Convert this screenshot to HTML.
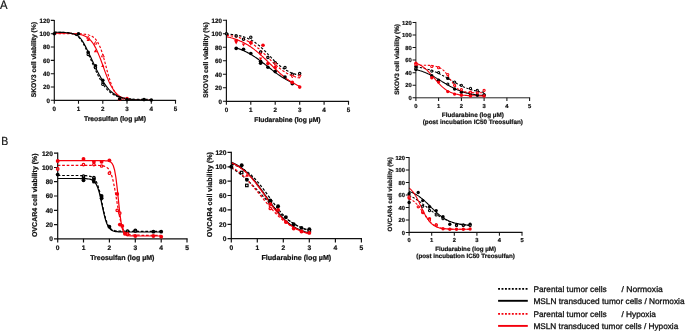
<!DOCTYPE html>
<html><head><meta charset="utf-8"><title>Figure</title>
<style>html,body{margin:0;padding:0;background:#fff}svg{display:block}</style></head>
<body>
<svg width="685" height="331" viewBox="0 0 685 331" font-family="'Liberation Sans', sans-serif" text-rendering="geometricPrecision">
<rect width="685" height="331" fill="#fff"/>
<g id="A1"><polyline points="54.3,33.7 55.5,33.7 56.7,33.7 57.9,33.7 59.1,33.7 60.4,33.7 61.6,33.7 62.8,33.7 64.0,33.7 65.2,33.7 66.4,33.7 67.6,33.7 68.8,33.7 70.1,33.7 71.3,33.7 72.5,33.8 73.7,33.8 74.9,33.8 76.1,33.8 77.3,33.8 78.5,33.8 79.8,33.9 81.0,33.9 82.2,34.0 83.4,34.1 84.6,34.2 85.8,34.4 87.0,34.6 88.2,34.8 89.4,35.2 90.7,35.6 91.9,36.2 93.1,36.9 94.3,37.9 95.5,39.1 96.7,40.6 97.9,42.5 99.1,44.9 100.4,47.7 101.6,51.0 102.8,54.7 104.0,58.9 105.2,63.3 106.4,67.9 107.6,72.5 108.8,76.8 110.1,80.8 111.3,84.4 112.5,87.5 113.7,90.1 114.9,92.3 116.1,94.0 117.3,95.4 118.5,96.5 119.7,97.4 121.0,98.1 122.2,98.6 123.4,99.0 124.6,99.3 125.8,99.6 127.0,99.7 128.2,99.9 129.4,100.0 130.7,100.1 131.9,100.1 133.1,100.2 134.3,100.2 135.5,100.2 136.7,100.2 137.9,100.3 139.1,100.3 140.4,100.3 141.6,100.3 142.8,100.3 144.0,100.3 145.2,100.3 146.4,100.3 147.6,100.3 148.8,100.3 150.0,100.3 151.3,100.3" fill="none" stroke="#f4000c" stroke-width="1.15" stroke-dasharray="2.50 1.70"/>
<polyline points="54.3,33.1 55.5,33.1 56.7,33.1 57.9,33.1 59.1,33.1 60.4,33.1 61.6,33.1 62.8,33.1 64.0,33.2 65.2,33.2 66.4,33.2 67.6,33.2 68.8,33.3 70.1,33.3 71.3,33.4 72.5,33.5 73.7,33.5 74.9,33.7 76.1,33.8 77.3,33.9 78.5,34.1 79.8,34.4 81.0,34.7 82.2,35.0 83.4,35.4 84.6,35.9 85.8,36.6 87.0,37.3 88.2,38.2 89.4,39.2 90.7,40.4 91.9,41.9 93.1,43.5 94.3,45.4 95.5,47.6 96.7,50.0 97.9,52.7 99.1,55.6 100.4,58.7 101.6,62.0 102.8,65.3 104.0,68.7 105.2,72.1 106.4,75.3 107.6,78.4 108.8,81.2 110.1,83.9 111.3,86.2 112.5,88.3 113.7,90.2 114.9,91.8 116.1,93.2 117.3,94.4 118.5,95.4 119.7,96.2 121.0,96.9 122.2,97.5 123.4,98.0 124.6,98.4 125.8,98.8 127.0,99.0 128.2,99.3 129.4,99.4 130.7,99.6 131.9,99.7 133.1,99.8 134.3,99.9 135.5,100.0 136.7,100.0 137.9,100.1 139.1,100.1 140.4,100.2 141.6,100.2 142.8,100.2 144.0,100.2 145.2,100.2 146.4,100.2 147.6,100.3 148.8,100.3 150.0,100.3 151.3,100.3" fill="none" stroke="#f4000c" stroke-width="1.15"/>
<polyline points="54.3,32.1 55.5,32.1 56.7,32.2 57.9,32.2 59.1,32.2 60.4,32.3 61.6,32.3 62.8,32.4 64.0,32.4 65.2,32.5 66.4,32.6 67.6,32.8 68.8,32.9 70.1,33.2 71.3,33.4 72.5,33.7 73.7,34.1 74.9,34.6 76.1,35.1 77.3,35.9 78.5,37.0 79.8,38.4 81.0,40.0 82.2,41.8 83.4,43.8 84.6,46.1 85.8,48.5 87.0,51.0 88.2,53.7 89.4,56.4 90.7,59.2 91.9,61.9 93.1,64.7 94.3,67.4 95.5,70.0 96.7,72.6 97.9,75.1 99.1,77.4 100.4,79.7 101.6,81.8 102.8,83.8 104.0,85.6 105.2,87.2 106.4,88.7 107.6,90.1 108.8,91.3 110.1,92.3 111.3,93.3 112.5,94.1 113.7,94.8 114.9,95.5 116.1,96.0 117.3,96.5 118.5,96.9 119.7,97.3 121.0,97.6 122.2,97.9 123.4,98.1 124.6,98.3 125.8,98.5 127.0,98.6 128.2,98.7 129.4,98.9 130.7,98.9 131.9,99.0 133.1,99.1 134.3,99.2 135.5,99.2 136.7,99.2 137.9,99.3 139.1,99.3 140.4,99.3 141.6,99.4 142.8,99.4 144.0,99.4 145.2,99.4 146.4,99.4 147.6,99.4 148.8,99.4 150.0,99.5 151.3,99.5" fill="none" stroke="#000" stroke-width="1.15" stroke-dasharray="2.50 1.70"/>
<polyline points="54.3,32.1 55.5,32.2 56.7,32.2 57.9,32.2 59.1,32.2 60.4,32.3 61.6,32.3 62.8,32.4 64.0,32.5 65.2,32.5 66.4,32.7 67.6,32.8 68.8,32.9 70.1,33.1 71.3,33.4 72.5,33.7 73.7,34.0 74.9,34.4 76.1,35.0 77.3,35.6 78.5,36.3 79.8,37.6 81.0,39.0 82.2,40.7 83.4,42.6 84.6,44.7 85.8,47.0 87.0,49.4 88.2,51.9 89.4,54.5 90.7,57.1 91.9,59.7 93.1,62.3 94.3,64.9 95.5,67.4 96.7,69.9 97.9,72.3 99.1,74.6 100.4,76.8 101.6,79.0 102.8,81.0 104.0,82.9 105.2,84.7 106.4,86.4 107.6,87.9 108.8,89.3 110.1,90.6 111.3,91.7 112.5,92.7 113.7,93.6 114.9,94.4 116.1,95.2 117.3,95.8 118.5,96.4 119.7,96.9 121.0,97.3 122.2,97.7 123.4,98.0 124.6,98.3 125.8,98.6 127.0,98.8 128.2,99.0 129.4,99.2 130.7,99.3 131.9,99.4 133.1,99.6 134.3,99.7 135.5,99.7 136.7,99.8 137.9,99.9 139.1,99.9 140.4,100.0 141.6,100.0 142.8,100.1 144.0,100.1 145.2,100.1 146.4,100.1 147.6,100.2 148.8,100.2 150.0,100.2 151.3,100.2" fill="none" stroke="#000" stroke-width="1.15"/>
<path d="M54.3 19.9V100.3H176.1" fill="none" stroke="#111" stroke-width="1.15"/>
<path d="M54.3 100.3h-3.5M54.3 87.0h-3.5M54.3 73.7h-3.5M54.3 60.4h-3.5M54.3 47.0h-3.5M54.3 33.7h-3.5M54.3 20.4h-3.5M54.3 100.3v3.5M78.5 100.3v3.5M102.8 100.3v3.5M127.0 100.3v3.5M151.3 100.3v3.5M175.5 100.3v3.5" stroke="#111" stroke-width="1.10" fill="none"/>
<text x="49.9" y="102.5" font-size="6.21" text-anchor="end" fill="#111" stroke="#111" stroke-width="0.22" font-weight="bold">0</text>
<text x="49.9" y="89.2" font-size="6.21" text-anchor="end" fill="#111" stroke="#111" stroke-width="0.22" font-weight="bold">20</text>
<text x="49.9" y="75.9" font-size="6.21" text-anchor="end" fill="#111" stroke="#111" stroke-width="0.22" font-weight="bold">40</text>
<text x="49.9" y="62.6" font-size="6.21" text-anchor="end" fill="#111" stroke="#111" stroke-width="0.22" font-weight="bold">60</text>
<text x="49.9" y="49.3" font-size="6.21" text-anchor="end" fill="#111" stroke="#111" stroke-width="0.22" font-weight="bold">80</text>
<text x="49.9" y="36.0" font-size="6.21" text-anchor="end" fill="#111" stroke="#111" stroke-width="0.22" font-weight="bold">100</text>
<text x="49.9" y="22.6" font-size="6.21" text-anchor="end" fill="#111" stroke="#111" stroke-width="0.22" font-weight="bold">120</text>
<text x="54.3" y="111.0" font-size="6.21" text-anchor="middle" fill="#111" stroke="#111" stroke-width="0.22" font-weight="bold">0</text>
<text x="78.5" y="111.0" font-size="6.21" text-anchor="middle" fill="#111" stroke="#111" stroke-width="0.22" font-weight="bold">1</text>
<text x="102.8" y="111.0" font-size="6.21" text-anchor="middle" fill="#111" stroke="#111" stroke-width="0.22" font-weight="bold">2</text>
<text x="127.0" y="111.0" font-size="6.21" text-anchor="middle" fill="#111" stroke="#111" stroke-width="0.22" font-weight="bold">3</text>
<text x="151.3" y="111.0" font-size="6.21" text-anchor="middle" fill="#111" stroke="#111" stroke-width="0.22" font-weight="bold">4</text>
<text x="175.5" y="111.0" font-size="6.21" text-anchor="middle" fill="#111" stroke="#111" stroke-width="0.22" font-weight="bold">5</text>
<text x="114.9" y="120.9" font-size="6.75" text-anchor="middle" fill="#111" stroke="#111" stroke-width="0.22" font-weight="bold">Treosulfan (log µM)</text>
<text transform="translate(35.9 59.6) rotate(-90)" font-size="6.75" text-anchor="middle" fill="#111" stroke="#111" stroke-width="0.22" font-weight="bold">SKOV3 cell viability (%)</text>
<polygon points="88.2,38.0 86.6,40.9 89.9,40.9" fill="#f4000c"/>
<polygon points="95.5,49.3 93.8,52.3 97.2,52.3" fill="#f4000c"/>
<polygon points="102.8,63.9 101.1,66.9 104.4,66.9" fill="#f4000c"/>
<polygon points="88.2,36.2 86.8,38.8 89.7,38.8" fill="#fff" fill-opacity="0.55" stroke="#f4000c" stroke-width="0.90"/>
<polygon points="95.5,41.5 94.0,44.1 97.0,44.1" fill="#fff" fill-opacity="0.55" stroke="#f4000c" stroke-width="0.90"/>
<polygon points="102.8,54.1 101.3,56.8 104.3,56.8" fill="#fff" fill-opacity="0.55" stroke="#f4000c" stroke-width="0.90"/>
<circle cx="119.7" cy="99.3" r="1.80" fill="#f4000c"/>
<circle cx="127.0" cy="98.6" r="1.80" fill="#f4000c"/>
<circle cx="54.3" cy="33.7" r="1.80" fill="#000"/>
<circle cx="78.5" cy="33.7" r="1.80" fill="#000"/>
<circle cx="88.2" cy="52.4" r="1.80" fill="#000"/>
<circle cx="95.5" cy="65.7" r="1.80" fill="#000"/>
<circle cx="102.8" cy="80.3" r="1.80" fill="#000"/>
<circle cx="119.7" cy="99.0" r="1.80" fill="#000"/>
<circle cx="127.0" cy="99.6" r="1.80" fill="#000"/>
<circle cx="144.0" cy="99.6" r="1.80" fill="#000"/>
<circle cx="151.3" cy="100.0" r="1.80" fill="#000"/>
<circle cx="88.2" cy="54.4" r="1.15" fill="#fff" fill-opacity="0.55" stroke="#000" stroke-width="1.15"/>
<circle cx="95.5" cy="67.7" r="1.15" fill="#fff" fill-opacity="0.55" stroke="#000" stroke-width="1.15"/>
<circle cx="102.8" cy="84.3" r="1.15" fill="#fff" fill-opacity="0.55" stroke="#000" stroke-width="1.15"/></g>
<g id="A2"><polyline points="236.2,47.9 236.9,48.1 237.6,48.3 238.3,48.6 239.0,48.8 239.7,49.1 240.4,49.3 241.1,49.6 241.8,49.9 242.5,50.2 243.2,50.5 243.9,50.8 244.6,51.1 245.3,51.4 246.0,51.8 246.7,52.1 247.4,52.5 248.1,52.9 248.8,53.2 249.5,53.6 250.2,54.0 250.9,54.4 251.6,54.8 252.3,55.3 253.0,55.7 253.7,56.2 254.4,56.6 255.1,57.1 255.8,57.6 256.5,58.0 257.2,58.5 257.9,59.0 258.6,59.5 259.3,60.1 260.0,60.6 260.7,61.1 261.4,61.6 262.1,62.2 262.8,62.7 263.5,63.3 264.3,63.8 265.0,64.4 265.7,64.9 266.4,65.5 267.1,66.0 267.8,66.6 268.5,67.1 269.2,67.7 269.9,68.2 270.6,68.8 271.3,69.3 272.0,69.9 272.7,70.4 273.4,71.0 274.1,71.5 274.8,72.0 275.5,72.6 276.2,73.1 276.9,73.6 277.6,74.1 278.3,74.6 279.0,75.1 279.7,75.5 280.4,76.0 281.1,76.5 281.8,76.9 282.5,77.4 283.2,77.8 283.9,78.2 284.6,78.6 285.3,79.0 286.0,79.4 286.7,79.8 287.4,80.2 288.1,80.6 288.8,80.9 289.5,81.3 290.2,81.6 290.9,81.9 291.6,82.2 292.3,82.5" fill="none" stroke="#000" stroke-width="1.16"/>
<polyline points="226.4,33.9 227.3,34.0 228.2,34.1 229.1,34.2 230.1,34.3 231.0,34.4 231.9,34.5 232.8,34.6 233.7,34.7 234.6,34.8 235.6,35.0 236.5,35.1 237.4,35.3 238.3,35.5 239.2,35.7 240.1,35.9 241.1,36.1 242.0,36.4 242.9,36.6 243.8,36.9 244.7,37.2 245.6,37.5 246.5,37.9 247.5,38.3 248.4,38.7 249.3,39.1 250.2,39.6 251.1,40.1 252.0,40.6 253.0,41.1 253.9,41.7 254.8,42.3 255.7,43.0 256.6,43.6 257.5,44.3 258.5,45.1 259.4,45.8 260.3,46.6 261.2,47.5 262.1,48.3 263.0,49.2 263.9,50.1 264.9,51.0 265.8,51.9 266.7,52.9 267.6,53.8 268.5,54.8 269.4,55.7 270.4,56.7 271.3,57.7 272.2,58.6 273.1,59.5 274.0,60.5 274.9,61.4 275.9,62.2 276.8,63.1 277.7,63.9 278.6,64.7 279.5,65.5 280.4,66.3 281.3,67.0 282.3,67.7 283.2,68.3 284.1,69.0 285.0,69.5 285.9,70.1 286.8,70.6 287.8,71.1 288.7,71.6 289.6,72.0 290.5,72.5 291.4,72.8 292.3,73.2 293.2,73.5 294.2,73.8 295.1,74.1 296.0,74.4 296.9,74.7 297.8,74.9 298.7,75.1 299.7,75.3" fill="none" stroke="#000" stroke-width="1.16" stroke-dasharray="2.52 1.72"/>
<polyline points="226.4,35.2 227.3,35.3 228.2,35.4 229.1,35.5 230.1,35.7 231.0,35.8 231.9,36.0 232.8,36.1 233.7,36.3 234.6,36.5 235.6,36.7 236.5,36.9 237.4,37.1 238.3,37.4 239.2,37.6 240.1,37.9 241.1,38.2 242.0,38.5 242.9,38.9 243.8,39.2 244.7,39.6 245.6,40.0 246.5,40.5 247.5,40.9 248.4,41.4 249.3,41.9 250.2,42.4 251.1,43.0 252.0,43.6 253.0,44.2 253.9,44.8 254.8,45.5 255.7,46.2 256.6,46.9 257.5,47.7 258.5,48.4 259.4,49.2 260.3,50.1 261.2,50.9 262.1,51.8 263.0,52.6 263.9,53.5 264.9,54.4 265.8,55.3 266.7,56.2 267.6,57.1 268.5,58.1 269.4,59.0 270.4,59.9 271.3,60.8 272.2,61.7 273.1,62.6 274.0,63.4 274.9,64.3 275.9,65.1 276.8,65.9 277.7,66.7 278.6,67.5 279.5,68.2 280.4,68.9 281.3,69.6 282.3,70.3 283.2,70.9 284.1,71.5 285.0,72.1 285.9,72.6 286.8,73.2 287.8,73.7 288.7,74.1 289.6,74.6 290.5,75.0 291.4,75.4 292.3,75.8 293.2,76.1 294.2,76.5 295.1,76.8 296.0,77.1 296.9,77.3 297.8,77.6 298.7,77.8 299.7,78.1" fill="none" stroke="#f4000c" stroke-width="1.16" stroke-dasharray="2.52 1.72"/>
<polyline points="226.4,36.7 227.3,36.9 228.2,37.1 229.1,37.3 230.1,37.5 231.0,37.8 231.9,38.0 232.8,38.3 233.7,38.6 234.6,38.9 235.6,39.2 236.5,39.5 237.4,39.8 238.3,40.2 239.2,40.6 240.1,41.0 241.1,41.4 242.0,41.8 242.9,42.2 243.8,42.7 244.7,43.2 245.6,43.7 246.5,44.2 247.5,44.8 248.4,45.3 249.3,45.9 250.2,46.5 251.1,47.1 252.0,47.8 253.0,48.5 253.9,49.1 254.8,49.9 255.7,50.6 256.6,51.3 257.5,52.1 258.5,52.9 259.4,53.7 260.3,54.5 261.2,55.3 262.1,56.2 263.0,57.0 263.9,57.9 264.9,58.8 265.8,59.6 266.7,60.5 267.6,61.4 268.5,62.3 269.4,63.2 270.4,64.1 271.3,65.0 272.2,65.9 273.1,66.8 274.0,67.7 274.9,68.6 275.9,69.5 276.8,70.3 277.7,71.2 278.6,72.0 279.5,72.9 280.4,73.7 281.3,74.5 282.3,75.2 283.2,76.0 284.1,76.8 285.0,77.5 285.9,78.2 286.8,78.9 287.8,79.5 288.7,80.2 289.6,80.8 290.5,81.4 291.4,82.0 292.3,82.5 293.2,83.1 294.2,83.6 295.1,84.1 296.0,84.6 296.9,85.1 297.8,85.5 298.7,85.9 299.7,86.3" fill="none" stroke="#f4000c" stroke-width="1.16"/>
<path d="M226.4 19.8V101.3H349.1" fill="none" stroke="#111" stroke-width="1.16"/>
<path d="M226.4 101.3h-3.5M226.4 87.8h-3.5M226.4 74.3h-3.5M226.4 60.8h-3.5M226.4 47.3h-3.5M226.4 33.8h-3.5M226.4 20.3h-3.5M226.4 101.3v3.5M250.8 101.3v3.5M275.2 101.3v3.5M299.7 101.3v3.5M324.1 101.3v3.5M348.5 101.3v3.5" stroke="#111" stroke-width="1.11" fill="none"/>
<text x="222.0" y="103.6" font-size="6.26" text-anchor="end" fill="#111" stroke="#111" stroke-width="0.22" font-weight="bold">0</text>
<text x="222.0" y="90.1" font-size="6.26" text-anchor="end" fill="#111" stroke="#111" stroke-width="0.22" font-weight="bold">20</text>
<text x="222.0" y="76.6" font-size="6.26" text-anchor="end" fill="#111" stroke="#111" stroke-width="0.22" font-weight="bold">40</text>
<text x="222.0" y="63.1" font-size="6.26" text-anchor="end" fill="#111" stroke="#111" stroke-width="0.22" font-weight="bold">60</text>
<text x="222.0" y="49.6" font-size="6.26" text-anchor="end" fill="#111" stroke="#111" stroke-width="0.22" font-weight="bold">80</text>
<text x="222.0" y="36.1" font-size="6.26" text-anchor="end" fill="#111" stroke="#111" stroke-width="0.22" font-weight="bold">100</text>
<text x="222.0" y="22.6" font-size="6.26" text-anchor="end" fill="#111" stroke="#111" stroke-width="0.22" font-weight="bold">120</text>
<text x="226.4" y="112.1" font-size="6.26" text-anchor="middle" fill="#111" stroke="#111" stroke-width="0.22" font-weight="bold">0</text>
<text x="250.8" y="112.1" font-size="6.26" text-anchor="middle" fill="#111" stroke="#111" stroke-width="0.22" font-weight="bold">1</text>
<text x="275.2" y="112.1" font-size="6.26" text-anchor="middle" fill="#111" stroke="#111" stroke-width="0.22" font-weight="bold">2</text>
<text x="299.7" y="112.1" font-size="6.26" text-anchor="middle" fill="#111" stroke="#111" stroke-width="0.22" font-weight="bold">3</text>
<text x="324.1" y="112.1" font-size="6.26" text-anchor="middle" fill="#111" stroke="#111" stroke-width="0.22" font-weight="bold">4</text>
<text x="348.5" y="112.1" font-size="6.26" text-anchor="middle" fill="#111" stroke="#111" stroke-width="0.22" font-weight="bold">5</text>
<text x="287.4" y="121.6" font-size="6.77" text-anchor="middle" fill="#111" stroke="#111" stroke-width="0.22" font-weight="bold">Fludarabine (log µM)</text>
<text transform="translate(207.8 60.0) rotate(-90)" font-size="6.77" text-anchor="middle" fill="#111" stroke="#111" stroke-width="0.22" font-weight="bold">SKOV3 cell viability (%)</text>
<circle cx="236.2" cy="48.4" r="1.82" fill="#000"/>
<circle cx="243.5" cy="49.2" r="1.82" fill="#000"/>
<circle cx="250.8" cy="53.5" r="1.82" fill="#000"/>
<circle cx="260.6" cy="61.2" r="1.82" fill="#000"/>
<circle cx="260.6" cy="63.2" r="1.82" fill="#000"/>
<circle cx="267.9" cy="67.3" r="1.82" fill="#000"/>
<circle cx="275.2" cy="71.6" r="1.82" fill="#000"/>
<circle cx="285.0" cy="77.0" r="1.82" fill="#000"/>
<circle cx="292.3" cy="83.8" r="1.82" fill="#000"/>
<circle cx="226.4" cy="33.8" r="1.16" fill="#fff" fill-opacity="0.55" stroke="#000" stroke-width="1.16"/>
<circle cx="236.2" cy="35.9" r="1.16" fill="#fff" fill-opacity="0.55" stroke="#000" stroke-width="1.16"/>
<circle cx="243.5" cy="39.2" r="1.16" fill="#fff" fill-opacity="0.55" stroke="#000" stroke-width="1.16"/>
<circle cx="250.8" cy="37.2" r="1.16" fill="#fff" fill-opacity="0.55" stroke="#000" stroke-width="1.16"/>
<circle cx="260.6" cy="52.1" r="1.16" fill="#fff" fill-opacity="0.55" stroke="#000" stroke-width="1.16"/>
<circle cx="267.9" cy="57.5" r="1.16" fill="#fff" fill-opacity="0.55" stroke="#000" stroke-width="1.16"/>
<circle cx="275.2" cy="62.8" r="1.16" fill="#fff" fill-opacity="0.55" stroke="#000" stroke-width="1.16"/>
<circle cx="285.0" cy="67.6" r="1.16" fill="#fff" fill-opacity="0.55" stroke="#000" stroke-width="1.16"/>
<circle cx="292.3" cy="74.3" r="1.16" fill="#fff" fill-opacity="0.55" stroke="#000" stroke-width="1.16"/>
<circle cx="299.7" cy="73.6" r="1.16" fill="#fff" fill-opacity="0.55" stroke="#000" stroke-width="1.16"/>
<circle cx="236.2" cy="40.6" r="1.82" fill="#f4000c"/>
<circle cx="250.8" cy="42.6" r="1.82" fill="#f4000c"/>
<circle cx="263.0" cy="45.3" r="1.82" fill="#f4000c"/>
<circle cx="267.9" cy="63.5" r="1.82" fill="#f4000c"/>
<circle cx="275.2" cy="67.6" r="1.82" fill="#f4000c"/>
<circle cx="292.3" cy="82.4" r="1.82" fill="#f4000c"/>
<circle cx="299.7" cy="87.1" r="1.82" fill="#f4000c"/>
<polygon points="236.2,44.4 234.5,41.4 237.8,41.4" fill="#f4000c"/>
<polygon points="243.5,46.4 241.8,43.4 245.2,43.4" fill="#f4000c"/>
<polygon points="250.8,45.7 249.1,42.7 252.5,42.7" fill="#f4000c"/>
<polygon points="260.6,60.6 258.9,57.6 262.3,57.6" fill="#f4000c"/>
<polygon points="260.6,55.8 258.9,52.8 262.3,52.8" fill="#f4000c"/>
<polygon points="275.2,65.8 273.8,63.1 276.7,63.1" fill="#fff" fill-opacity="0.55" stroke="#f4000c" stroke-width="0.91"/>
<polygon points="292.3,77.9 290.8,75.2 293.8,75.2" fill="#fff" fill-opacity="0.55" stroke="#f4000c" stroke-width="0.91"/>
<polygon points="299.7,77.9 298.2,75.2 301.1,75.2" fill="#fff" fill-opacity="0.55" stroke="#f4000c" stroke-width="0.91"/></g>
<g id="A3"><polyline points="415.9,69.6 416.8,69.8 417.6,70.1 418.5,70.3 419.3,70.5 420.2,70.8 421.0,71.0 421.9,71.3 422.7,71.6 423.6,71.9 424.4,72.2 425.3,72.6 426.1,72.9 427.0,73.3 427.8,73.7 428.7,74.0 429.5,74.4 430.4,74.9 431.3,75.3 432.1,75.7 433.0,76.2 433.8,76.6 434.7,77.1 435.5,77.6 436.4,78.1 437.2,78.6 438.1,79.1 438.9,79.6 439.8,80.1 440.6,80.6 441.5,81.1 442.3,81.7 443.2,82.2 444.1,82.7 444.9,83.2 445.8,83.7 446.6,84.2 447.5,84.7 448.3,85.2 449.2,85.7 450.0,86.2 450.9,86.7 451.7,87.1 452.6,87.6 453.4,88.0 454.3,88.4 455.1,88.8 456.0,89.2 456.8,89.6 457.7,90.0 458.6,90.3 459.4,90.6 460.3,91.0 461.1,91.3 462.0,91.6 462.8,91.9 463.7,92.1 464.5,92.4 465.4,92.6 466.2,92.9 467.1,93.1 467.9,93.3 468.8,93.5 469.6,93.7 470.5,93.8 471.4,94.0 472.2,94.2 473.1,94.3 473.9,94.5 474.8,94.6 475.6,94.7 476.5,94.8 477.3,94.9 478.2,95.1 479.0,95.2 479.9,95.2 480.7,95.3 481.6,95.4 482.4,95.5 483.3,95.6 484.1,95.6" fill="none" stroke="#000" stroke-width="1.08"/>
<polyline points="415.9,66.9 416.8,67.0 417.6,67.1 418.5,67.2 419.3,67.4 420.2,67.5 421.0,67.7 421.9,67.8 422.7,68.0 423.6,68.2 424.4,68.4 425.3,68.6 426.1,68.8 427.0,69.0 427.8,69.3 428.7,69.5 429.5,69.8 430.4,70.0 431.3,70.3 432.1,70.6 433.0,71.0 433.8,71.3 434.7,71.6 435.5,72.0 436.4,72.3 437.2,72.7 438.1,73.1 438.9,73.5 439.8,73.9 440.6,74.4 441.5,74.8 442.3,75.3 443.2,75.7 444.1,76.2 444.9,76.7 445.8,77.1 446.6,77.6 447.5,78.1 448.3,78.6 449.2,79.1 450.0,79.6 450.9,80.1 451.7,80.6 452.6,81.1 453.4,81.6 454.3,82.1 455.1,82.6 456.0,83.0 456.8,83.5 457.7,84.0 458.6,84.4 459.4,84.9 460.3,85.3 461.1,85.7 462.0,86.1 462.8,86.5 463.7,86.9 464.5,87.2 465.4,87.6 466.2,87.9 467.1,88.3 467.9,88.6 468.8,88.9 469.6,89.2 470.5,89.4 471.4,89.7 472.2,90.0 473.1,90.2 473.9,90.4 474.8,90.6 475.6,90.8 476.5,91.0 477.3,91.2 478.2,91.4 479.0,91.6 479.9,91.7 480.7,91.9 481.6,92.0 482.4,92.1 483.3,92.2 484.1,92.4" fill="none" stroke="#000" stroke-width="1.08" stroke-dasharray="2.35 1.60"/>
<polyline points="415.9,65.2 416.8,65.2 417.6,65.2 418.5,65.2 419.3,65.2 420.2,65.2 421.0,65.2 421.9,65.2 422.7,65.2 423.6,65.2 424.4,65.2 425.3,65.3 426.1,65.3 427.0,65.3 427.8,65.3 428.7,65.4 429.5,65.4 430.4,65.5 431.3,65.6 432.1,65.6 433.0,65.7 433.8,65.9 434.7,66.0 435.5,66.2 436.4,66.4 437.2,66.7 438.1,67.0 438.9,67.3 439.8,67.7 440.6,68.2 441.5,68.7 442.3,69.4 443.2,70.1 444.1,70.9 444.9,71.8 445.8,72.9 446.6,74.0 447.5,75.1 448.3,76.4 449.2,77.7 450.0,79.0 450.9,80.3 451.7,81.6 452.6,82.8 453.4,84.0 454.3,85.1 455.1,86.1 456.0,87.0 456.8,87.9 457.7,88.6 458.6,89.2 459.4,89.8 460.3,90.2 461.1,90.7 462.0,91.0 462.8,91.3 463.7,91.6 464.5,91.8 465.4,91.9 466.2,92.1 467.1,92.2 467.9,92.3 468.8,92.4 469.6,92.5 470.5,92.5 471.4,92.6 472.2,92.6 473.1,92.7 473.9,92.7 474.8,92.7 475.6,92.7 476.5,92.7 477.3,92.8 478.2,92.8 479.0,92.8 479.9,92.8 480.7,92.8 481.6,92.8 482.4,92.8 483.3,92.8 484.1,92.8" fill="none" stroke="#f4000c" stroke-width="1.08" stroke-dasharray="2.35 1.60"/>
<polyline points="415.9,63.1 416.8,63.4 417.6,63.8 418.5,64.2 419.3,64.6 420.2,65.1 421.0,65.5 421.9,66.1 422.7,66.7 423.6,67.3 424.4,68.0 425.3,68.7 426.1,69.4 427.0,70.2 427.8,71.0 428.7,71.9 429.5,72.8 430.4,73.8 431.3,74.7 432.1,75.7 433.0,76.7 433.8,77.7 434.7,78.7 435.5,79.7 436.4,80.7 437.2,81.7 438.1,82.6 438.9,83.6 439.8,84.4 440.6,85.3 441.5,86.1 442.3,86.9 443.2,87.6 444.1,88.3 444.9,89.0 445.8,89.6 446.6,90.2 447.5,90.7 448.3,91.2 449.2,91.6 450.0,92.0 450.9,92.4 451.7,92.8 452.6,93.1 453.4,93.4 454.3,93.6 455.1,93.8 456.0,94.1 456.8,94.3 457.7,94.4 458.6,94.6 459.4,94.7 460.3,94.9 461.1,95.0 462.0,95.1 462.8,95.2 463.7,95.2 464.5,95.3 465.4,95.4 466.2,95.4 467.1,95.5 467.9,95.6 468.8,95.6 469.6,95.6 470.5,95.7 471.4,95.7 472.2,95.7 473.1,95.8 473.9,95.8 474.8,95.8 475.6,95.8 476.5,95.8 477.3,95.8 478.2,95.9 479.0,95.9 479.9,95.9 480.7,95.9 481.6,95.9 482.4,95.9 483.3,95.9 484.1,95.9" fill="none" stroke="#f4000c" stroke-width="1.08"/>
<path d="M415.9 21.9V97.8H530.2" fill="none" stroke="#111" stroke-width="0.92"/>
<path d="M415.9 97.8h-3.3M415.9 85.3h-3.3M415.9 72.7h-3.3M415.9 60.1h-3.3M415.9 47.5h-3.3M415.9 34.9h-3.3M415.9 22.4h-3.3M415.9 97.8v3.3M438.6 97.8v3.3M461.4 97.8v3.3M484.1 97.8v3.3M506.9 97.8v3.3M529.6 97.8v3.3" stroke="#111" stroke-width="1.03" fill="none"/>
<text x="411.8" y="99.9" font-size="5.83" text-anchor="end" fill="#111" stroke="#111" stroke-width="0.21" font-weight="bold">0</text>
<text x="411.8" y="87.4" font-size="5.83" text-anchor="end" fill="#111" stroke="#111" stroke-width="0.21" font-weight="bold">20</text>
<text x="411.8" y="74.8" font-size="5.83" text-anchor="end" fill="#111" stroke="#111" stroke-width="0.21" font-weight="bold">40</text>
<text x="411.8" y="62.2" font-size="5.83" text-anchor="end" fill="#111" stroke="#111" stroke-width="0.21" font-weight="bold">60</text>
<text x="411.8" y="49.6" font-size="5.83" text-anchor="end" fill="#111" stroke="#111" stroke-width="0.21" font-weight="bold">80</text>
<text x="411.8" y="37.0" font-size="5.83" text-anchor="end" fill="#111" stroke="#111" stroke-width="0.21" font-weight="bold">100</text>
<text x="411.8" y="24.5" font-size="5.83" text-anchor="end" fill="#111" stroke="#111" stroke-width="0.21" font-weight="bold">120</text>
<text x="415.9" y="107.9" font-size="5.83" text-anchor="middle" fill="#111" stroke="#111" stroke-width="0.21" font-weight="bold">0</text>
<text x="438.6" y="107.9" font-size="5.83" text-anchor="middle" fill="#111" stroke="#111" stroke-width="0.21" font-weight="bold">1</text>
<text x="461.4" y="107.9" font-size="5.83" text-anchor="middle" fill="#111" stroke="#111" stroke-width="0.21" font-weight="bold">2</text>
<text x="484.1" y="107.9" font-size="5.83" text-anchor="middle" fill="#111" stroke="#111" stroke-width="0.21" font-weight="bold">3</text>
<text x="506.9" y="107.9" font-size="5.83" text-anchor="middle" fill="#111" stroke="#111" stroke-width="0.21" font-weight="bold">4</text>
<text x="529.6" y="107.9" font-size="5.83" text-anchor="middle" fill="#111" stroke="#111" stroke-width="0.21" font-weight="bold">5</text>
<text x="472.8" y="116.7" font-size="6.33" text-anchor="middle" fill="#111" stroke="#111" stroke-width="0.21" font-weight="bold">Fludarabine (log µM)</text>
<text x="472.8" y="124.3" font-size="6.33" text-anchor="middle" fill="#111" stroke="#111" stroke-width="0.21" font-weight="bold">(post incubation IC50 Treosulfan)</text>
<text transform="translate(398.6 59.4) rotate(-90)" font-size="6.33" text-anchor="middle" fill="#111" stroke="#111" stroke-width="0.21" font-weight="bold">SKOV3 cell viability (%)</text>
<circle cx="415.9" cy="66.4" r="1.69" fill="#000"/>
<circle cx="415.9" cy="69.5" r="1.69" fill="#000"/>
<circle cx="431.8" cy="75.8" r="1.69" fill="#000"/>
<circle cx="438.6" cy="80.2" r="1.69" fill="#000"/>
<circle cx="447.8" cy="78.4" r="1.69" fill="#000"/>
<circle cx="454.6" cy="89.0" r="1.69" fill="#000"/>
<circle cx="461.4" cy="92.2" r="1.69" fill="#000"/>
<circle cx="470.5" cy="94.7" r="1.69" fill="#000"/>
<circle cx="477.3" cy="95.3" r="1.69" fill="#000"/>
<circle cx="484.1" cy="95.3" r="1.69" fill="#000"/>
<circle cx="415.9" cy="68.3" r="1.08" fill="#fff" fill-opacity="0.55" stroke="#000" stroke-width="1.08"/>
<circle cx="431.8" cy="71.1" r="1.08" fill="#fff" fill-opacity="0.55" stroke="#000" stroke-width="1.08"/>
<circle cx="438.6" cy="72.6" r="1.08" fill="#fff" fill-opacity="0.55" stroke="#000" stroke-width="1.08"/>
<circle cx="447.8" cy="84.0" r="1.08" fill="#fff" fill-opacity="0.55" stroke="#000" stroke-width="1.08"/>
<circle cx="454.6" cy="82.1" r="1.08" fill="#fff" fill-opacity="0.55" stroke="#000" stroke-width="1.08"/>
<circle cx="461.4" cy="85.3" r="1.08" fill="#fff" fill-opacity="0.55" stroke="#000" stroke-width="1.08"/>
<circle cx="470.5" cy="88.4" r="1.08" fill="#fff" fill-opacity="0.55" stroke="#000" stroke-width="1.08"/>
<circle cx="477.3" cy="90.3" r="1.08" fill="#fff" fill-opacity="0.55" stroke="#000" stroke-width="1.08"/>
<circle cx="484.1" cy="94.7" r="1.08" fill="#fff" fill-opacity="0.55" stroke="#000" stroke-width="1.08"/>
<circle cx="415.9" cy="63.3" r="1.69" fill="#f4000c"/>
<circle cx="431.8" cy="77.7" r="1.69" fill="#f4000c"/>
<circle cx="438.6" cy="82.1" r="1.69" fill="#f4000c"/>
<circle cx="447.8" cy="91.6" r="1.69" fill="#f4000c"/>
<circle cx="454.6" cy="94.1" r="1.69" fill="#f4000c"/>
<circle cx="461.4" cy="95.3" r="1.69" fill="#f4000c"/>
<circle cx="470.5" cy="96.0" r="1.69" fill="#f4000c"/>
<circle cx="484.1" cy="96.0" r="1.69" fill="#f4000c"/>
<circle cx="415.9" cy="64.5" r="1.08" fill="#fff" fill-opacity="0.55" stroke="#f4000c" stroke-width="1.08"/>
<circle cx="431.8" cy="66.4" r="1.08" fill="#fff" fill-opacity="0.55" stroke="#f4000c" stroke-width="1.08"/>
<circle cx="438.6" cy="67.7" r="1.08" fill="#fff" fill-opacity="0.55" stroke="#f4000c" stroke-width="1.08"/>
<circle cx="447.8" cy="74.6" r="1.08" fill="#fff" fill-opacity="0.55" stroke="#f4000c" stroke-width="1.08"/>
<circle cx="454.6" cy="85.3" r="1.08" fill="#fff" fill-opacity="0.55" stroke="#f4000c" stroke-width="1.08"/>
<circle cx="461.4" cy="89.7" r="1.08" fill="#fff" fill-opacity="0.55" stroke="#f4000c" stroke-width="1.08"/>
<circle cx="470.5" cy="92.2" r="1.08" fill="#fff" fill-opacity="0.55" stroke="#f4000c" stroke-width="1.08"/>
<circle cx="477.3" cy="92.8" r="1.08" fill="#fff" fill-opacity="0.55" stroke="#f4000c" stroke-width="1.08"/>
<circle cx="484.1" cy="90.3" r="1.08" fill="#fff" fill-opacity="0.55" stroke="#f4000c" stroke-width="1.08"/></g>
<g id="B1"><polyline points="57.7,178.5 59.0,178.5 60.3,178.5 61.6,178.5 62.8,178.5 64.1,178.5 65.4,178.5 66.7,178.5 68.0,178.5 69.3,178.5 70.6,178.5 71.9,178.5 73.2,178.5 74.5,178.5 75.8,178.5 77.1,178.5 78.4,178.5 79.7,178.5 81.0,178.6 82.2,178.6 83.5,178.6 84.8,178.6 86.1,178.7 87.4,178.8 88.7,179.0 90.0,179.2 91.3,179.6 92.6,180.2 93.9,181.2 95.2,182.6 96.5,184.8 97.8,187.8 99.1,191.8 100.4,196.9 101.6,202.8 102.9,208.9 104.2,214.7 105.5,219.6 106.8,223.4 108.1,226.2 109.4,228.2 110.7,229.5 112.0,230.4 113.3,231.0 114.6,231.3 115.9,231.6 117.2,231.7 118.5,231.8 119.8,231.9 121.1,231.9 122.3,231.9 123.6,232.0 124.9,232.0 126.2,232.0 127.5,232.0 128.8,232.0 130.1,232.0 131.4,232.0 132.7,232.0 134.0,232.0 135.3,232.0 136.6,232.0 137.9,232.0 139.2,232.0 140.5,232.0 141.7,232.0 143.0,232.0 144.3,232.0 145.6,232.0 146.9,232.0 148.2,232.0 149.5,232.0 150.8,232.0 152.1,232.0 153.4,232.0 154.7,232.0 156.0,232.0 157.3,232.0 158.6,232.0 159.9,232.0 161.2,232.0" fill="none" stroke="#000" stroke-width="1.23"/>
<polyline points="57.7,175.5 59.0,175.5 60.3,175.5 61.6,175.5 62.8,175.5 64.1,175.5 65.4,175.5 66.7,175.5 68.0,175.5 69.3,175.5 70.6,175.5 71.9,175.5 73.2,175.5 74.5,175.5 75.8,175.5 77.1,175.5 78.4,175.5 79.7,175.6 81.0,175.6 82.2,175.6 83.5,175.6 84.8,175.6 86.1,175.7 87.4,175.8 88.7,176.0 90.0,176.3 91.3,176.7 92.6,177.3 93.9,178.3 95.2,179.8 96.5,182.0 97.8,185.2 99.1,189.4 100.4,194.7 101.6,200.8 102.9,207.2 104.2,213.2 105.5,218.3 106.8,222.3 108.1,225.3 109.4,227.3 110.7,228.7 112.0,229.6 113.3,230.2 114.6,230.6 115.9,230.8 117.2,231.0 118.5,231.1 119.8,231.2 121.1,231.2 122.3,231.2 123.6,231.2 124.9,231.2 126.2,231.3 127.5,231.3 128.8,231.3 130.1,231.3 131.4,231.3 132.7,231.3 134.0,231.3 135.3,231.3 136.6,231.3 137.9,231.3 139.2,231.3 140.5,231.3 141.7,231.3 143.0,231.3 144.3,231.3 145.6,231.3 146.9,231.3 148.2,231.3 149.5,231.3 150.8,231.3 152.1,231.3 153.4,231.3 154.7,231.3 156.0,231.3 157.3,231.3 158.6,231.3 159.9,231.3 161.2,231.3" fill="none" stroke="#000" stroke-width="1.23" stroke-dasharray="2.67 1.82"/>
<polyline points="57.7,165.3 59.0,165.3 60.3,165.3 61.6,165.3 62.8,165.3 64.1,165.3 65.4,165.3 66.7,165.3 68.0,165.3 69.3,165.3 70.6,165.3 71.9,165.3 73.2,165.3 74.5,165.3 75.8,165.3 77.1,165.3 78.4,165.3 79.7,165.3 81.0,165.3 82.2,165.3 83.5,165.3 84.8,165.3 86.1,165.3 87.4,165.3 88.7,165.3 90.0,165.3 91.3,165.3 92.6,165.3 93.9,165.4 95.2,165.4 96.5,165.4 97.8,165.4 99.1,165.5 100.4,165.5 101.6,165.7 102.9,165.9 104.2,166.2 105.5,166.6 106.8,167.4 108.1,168.5 109.4,170.3 110.7,172.8 112.0,176.5 113.3,181.5 114.6,188.0 115.9,195.5 117.2,203.5 118.5,211.2 119.8,217.9 121.1,223.2 122.3,227.1 123.6,229.9 124.9,231.8 126.2,233.0 127.5,233.8 128.8,234.4 130.1,234.7 131.4,234.9 132.7,235.0 134.0,235.1 135.3,235.2 136.6,235.2 137.9,235.2 139.2,235.2 140.5,235.2 141.7,235.3 143.0,235.3 144.3,235.3 145.6,235.3 146.9,235.3 148.2,235.3 149.5,235.3 150.8,235.3 152.1,235.3 153.4,235.3 154.7,235.3 156.0,235.3 157.3,235.3 158.6,235.3 159.9,235.3 161.2,235.3" fill="none" stroke="#f4000c" stroke-width="1.23" stroke-dasharray="2.67 1.82"/>
<polyline points="57.7,160.7 59.0,160.7 60.3,160.7 61.6,160.7 62.8,160.7 64.1,160.7 65.4,160.7 66.7,160.7 68.0,160.7 69.3,160.7 70.6,160.7 71.9,160.7 73.2,160.7 74.5,160.7 75.8,160.7 77.1,160.7 78.4,160.7 79.7,160.7 81.0,160.7 82.2,160.7 83.5,160.7 84.8,160.7 86.1,160.7 87.4,160.7 88.7,160.7 90.0,160.7 91.3,160.7 92.6,160.7 93.9,160.7 95.2,160.7 96.5,160.7 97.8,160.7 99.1,160.7 100.4,160.7 101.6,160.7 102.9,160.7 104.2,160.7 105.5,160.8 106.8,160.9 108.1,161.0 109.4,161.4 110.7,162.0 112.0,163.3 113.3,165.8 114.6,170.2 115.9,177.5 117.2,188.2 118.5,200.9 119.8,213.1 121.1,222.5 122.3,228.5 123.6,232.1 124.9,234.0 126.2,235.0 127.5,235.5 128.8,235.7 130.1,235.8 131.4,235.9 132.7,235.9 134.0,236.0 135.3,236.0 136.6,236.0 137.9,236.0 139.2,236.0 140.5,236.0 141.7,236.0 143.0,236.0 144.3,236.0 145.6,236.0 146.9,236.0 148.2,236.0 149.5,236.0 150.8,236.0 152.1,236.0 153.4,236.0 154.7,236.0 156.0,236.0 157.3,236.0 158.6,236.0 159.9,236.0 161.2,236.0" fill="none" stroke="#f4000c" stroke-width="1.23"/>
<path d="M57.7 152.6V238.8H187.6" fill="none" stroke="#111" stroke-width="1.23"/>
<path d="M57.7 238.8h-3.7M57.7 224.6h-3.7M57.7 210.3h-3.7M57.7 196.0h-3.7M57.7 181.7h-3.7M57.7 167.5h-3.7M57.7 153.2h-3.7M57.7 238.8v3.7M83.5 238.8v3.7M109.4 238.8v3.7M135.3 238.8v3.7M161.2 238.8v3.7M187.0 238.8v3.7" stroke="#111" stroke-width="1.18" fill="none"/>
<text x="53.0" y="241.2" font-size="6.63" text-anchor="end" fill="#111" stroke="#111" stroke-width="0.24" font-weight="bold">0</text>
<text x="53.0" y="226.9" font-size="6.63" text-anchor="end" fill="#111" stroke="#111" stroke-width="0.24" font-weight="bold">20</text>
<text x="53.0" y="212.7" font-size="6.63" text-anchor="end" fill="#111" stroke="#111" stroke-width="0.24" font-weight="bold">40</text>
<text x="53.0" y="198.4" font-size="6.63" text-anchor="end" fill="#111" stroke="#111" stroke-width="0.24" font-weight="bold">60</text>
<text x="53.0" y="184.1" font-size="6.63" text-anchor="end" fill="#111" stroke="#111" stroke-width="0.24" font-weight="bold">80</text>
<text x="53.0" y="169.9" font-size="6.63" text-anchor="end" fill="#111" stroke="#111" stroke-width="0.24" font-weight="bold">100</text>
<text x="53.0" y="155.6" font-size="6.63" text-anchor="end" fill="#111" stroke="#111" stroke-width="0.24" font-weight="bold">120</text>
<text x="57.7" y="250.3" font-size="6.63" text-anchor="middle" fill="#111" stroke="#111" stroke-width="0.24" font-weight="bold">0</text>
<text x="83.5" y="250.3" font-size="6.63" text-anchor="middle" fill="#111" stroke="#111" stroke-width="0.24" font-weight="bold">1</text>
<text x="109.4" y="250.3" font-size="6.63" text-anchor="middle" fill="#111" stroke="#111" stroke-width="0.24" font-weight="bold">2</text>
<text x="135.3" y="250.3" font-size="6.63" text-anchor="middle" fill="#111" stroke="#111" stroke-width="0.24" font-weight="bold">3</text>
<text x="161.2" y="250.3" font-size="6.63" text-anchor="middle" fill="#111" stroke="#111" stroke-width="0.24" font-weight="bold">4</text>
<text x="187.0" y="250.3" font-size="6.63" text-anchor="middle" fill="#111" stroke="#111" stroke-width="0.24" font-weight="bold">5</text>
<text x="122.3" y="260.3" font-size="7.00" text-anchor="middle" fill="#111" stroke="#111" stroke-width="0.24" font-weight="bold">Treosulfan (log µM)</text>
<text transform="translate(37.0 195.2) rotate(-90)" font-size="7.00" text-anchor="middle" fill="#111" stroke="#111" stroke-width="0.24" font-weight="bold">OVCAR4 cell viability (%)</text>
<circle cx="57.7" cy="174.6" r="1.92" fill="#000"/>
<circle cx="83.5" cy="180.3" r="1.92" fill="#000"/>
<circle cx="83.5" cy="178.2" r="1.92" fill="#000"/>
<circle cx="93.9" cy="181.7" r="1.92" fill="#000"/>
<circle cx="93.9" cy="178.9" r="1.92" fill="#000"/>
<circle cx="101.6" cy="198.2" r="1.92" fill="#000"/>
<circle cx="101.6" cy="196.0" r="1.92" fill="#000"/>
<circle cx="109.4" cy="226.7" r="1.92" fill="#000"/>
<circle cx="127.5" cy="231.7" r="1.92" fill="#000"/>
<circle cx="135.3" cy="230.3" r="1.92" fill="#000"/>
<circle cx="153.4" cy="231.7" r="1.92" fill="#000"/>
<circle cx="161.2" cy="231.7" r="1.92" fill="#000"/>
<circle cx="83.5" cy="176.0" r="1.23" fill="#fff" fill-opacity="0.55" stroke="#000" stroke-width="1.23"/>
<circle cx="93.9" cy="177.5" r="1.23" fill="#fff" fill-opacity="0.55" stroke="#000" stroke-width="1.23"/>
<circle cx="127.5" cy="231.0" r="1.23" fill="#fff" fill-opacity="0.55" stroke="#000" stroke-width="1.23"/>
<circle cx="135.3" cy="231.0" r="1.23" fill="#fff" fill-opacity="0.55" stroke="#000" stroke-width="1.23"/>
<circle cx="57.7" cy="161.0" r="1.92" fill="#f4000c"/>
<circle cx="83.5" cy="158.9" r="1.92" fill="#f4000c"/>
<circle cx="93.9" cy="161.8" r="1.92" fill="#f4000c"/>
<circle cx="101.6" cy="161.8" r="1.92" fill="#f4000c"/>
<circle cx="109.4" cy="160.3" r="1.92" fill="#f4000c"/>
<circle cx="117.2" cy="193.9" r="1.92" fill="#f4000c"/>
<circle cx="119.8" cy="224.6" r="1.92" fill="#f4000c"/>
<circle cx="122.3" cy="226.0" r="1.92" fill="#f4000c"/>
<circle cx="124.9" cy="233.8" r="1.92" fill="#f4000c"/>
<circle cx="127.5" cy="234.5" r="1.92" fill="#f4000c"/>
<circle cx="135.3" cy="236.0" r="1.92" fill="#f4000c"/>
<circle cx="153.4" cy="236.0" r="1.92" fill="#f4000c"/>
<circle cx="161.2" cy="236.7" r="1.92" fill="#f4000c"/>
<circle cx="57.7" cy="168.9" r="1.23" fill="#fff" fill-opacity="0.55" stroke="#f4000c" stroke-width="1.23"/>
<circle cx="83.5" cy="164.6" r="1.23" fill="#fff" fill-opacity="0.55" stroke="#f4000c" stroke-width="1.23"/>
<circle cx="93.9" cy="164.6" r="1.23" fill="#fff" fill-opacity="0.55" stroke="#f4000c" stroke-width="1.23"/>
<circle cx="101.6" cy="166.0" r="1.23" fill="#fff" fill-opacity="0.55" stroke="#f4000c" stroke-width="1.23"/>
<circle cx="109.4" cy="173.2" r="1.23" fill="#fff" fill-opacity="0.55" stroke="#f4000c" stroke-width="1.23"/>
<circle cx="117.2" cy="210.3" r="1.23" fill="#fff" fill-opacity="0.55" stroke="#f4000c" stroke-width="1.23"/>
<circle cx="119.8" cy="213.1" r="1.23" fill="#fff" fill-opacity="0.55" stroke="#f4000c" stroke-width="1.23"/>
<circle cx="127.5" cy="233.8" r="1.23" fill="#fff" fill-opacity="0.55" stroke="#f4000c" stroke-width="1.23"/></g>
<g id="B2"><polyline points="231.3,162.1 232.2,162.6 233.2,163.0 234.2,163.5 235.2,164.0 236.1,164.5 237.1,165.1 238.1,165.7 239.1,166.3 240.1,166.9 241.0,167.6 242.0,168.3 243.0,169.1 244.0,169.9 244.9,170.7 245.9,171.6 246.9,172.5 247.9,173.4 248.8,174.4 249.8,175.4 250.8,176.4 251.8,177.5 252.7,178.6 253.7,179.8 254.7,181.0 255.7,182.2 256.6,183.4 257.6,184.7 258.6,186.0 259.6,187.3 260.5,188.6 261.5,190.0 262.5,191.3 263.5,192.7 264.4,194.1 265.4,195.5 266.4,196.9 267.4,198.3 268.3,199.7 269.3,201.1 270.3,202.4 271.3,203.8 272.3,205.1 273.2,206.4 274.2,207.7 275.2,209.0 276.2,210.2 277.1,211.4 278.1,212.6 279.1,213.7 280.1,214.9 281.0,215.9 282.0,217.0 283.0,218.0 284.0,218.9 284.9,219.9 285.9,220.8 286.9,221.6 287.9,222.4 288.8,223.2 289.8,224.0 290.8,224.7 291.8,225.4 292.7,226.0 293.7,226.6 294.7,227.2 295.7,227.8 296.6,228.3 297.6,228.8 298.6,229.2 299.6,229.7 300.5,230.1 301.5,230.5 302.5,230.9 303.5,231.2 304.5,231.6 305.4,231.9 306.4,232.2 307.4,232.4 308.4,232.7 309.3,232.9" fill="none" stroke="#000" stroke-width="1.24"/>
<polyline points="231.3,164.0 232.2,164.3 233.2,164.6 234.2,164.9 235.2,165.3 236.1,165.6 237.1,166.0 238.1,166.4 239.1,166.9 240.1,167.4 241.0,167.9 242.0,168.4 243.0,169.0 244.0,169.6 244.9,170.2 245.9,170.9 246.9,171.6 247.9,172.3 248.8,173.1 249.8,173.9 250.8,174.7 251.8,175.6 252.7,176.6 253.7,177.5 254.7,178.5 255.7,179.6 256.6,180.7 257.6,181.8 258.6,182.9 259.6,184.1 260.5,185.3 261.5,186.6 262.5,187.9 263.5,189.2 264.4,190.5 265.4,191.8 266.4,193.1 267.4,194.5 268.3,195.9 269.3,197.2 270.3,198.6 271.3,199.9 272.3,201.3 273.2,202.6 274.2,203.9 275.2,205.2 276.2,206.5 277.1,207.8 278.1,209.0 279.1,210.2 280.1,211.4 281.0,212.5 282.0,213.6 283.0,214.6 284.0,215.7 284.9,216.6 285.9,217.6 286.9,218.5 287.9,219.4 288.8,220.2 289.8,221.0 290.8,221.7 291.8,222.4 292.7,223.1 293.7,223.8 294.7,224.4 295.7,224.9 296.6,225.5 297.6,226.0 298.6,226.5 299.6,226.9 300.5,227.4 301.5,227.8 302.5,228.2 303.5,228.5 304.5,228.8 305.4,229.2 306.4,229.4 307.4,229.7 308.4,230.0 309.3,230.2" fill="none" stroke="#000" stroke-width="1.24" stroke-dasharray="2.69 1.83"/>
<polyline points="231.3,167.7 232.2,168.3 233.2,169.0 234.2,169.6 235.2,170.3 236.1,170.9 237.1,171.6 238.1,172.4 239.1,173.1 240.1,173.9 241.0,174.6 242.0,175.4 243.0,176.3 244.0,177.1 244.9,177.9 245.9,178.8 246.9,179.7 247.9,180.6 248.8,181.5 249.8,182.5 250.8,183.4 251.8,184.4 252.7,185.4 253.7,186.4 254.7,187.4 255.7,188.4 256.6,189.4 257.6,190.4 258.6,191.5 259.6,192.5 260.5,193.6 261.5,194.6 262.5,195.7 263.5,196.7 264.4,197.8 265.4,198.8 266.4,199.8 267.4,200.9 268.3,201.9 269.3,202.9 270.3,203.9 271.3,204.9 272.3,205.9 273.2,206.9 274.2,207.9 275.2,208.8 276.2,209.8 277.1,210.7 278.1,211.6 279.1,212.5 280.1,213.4 281.0,214.2 282.0,215.1 283.0,215.9 284.0,216.7 284.9,217.5 285.9,218.2 286.9,219.0 287.9,219.7 288.8,220.4 289.8,221.1 290.8,221.8 291.8,222.4 292.7,223.0 293.7,223.6 294.7,224.2 295.7,224.8 296.6,225.3 297.6,225.8 298.6,226.3 299.6,226.8 300.5,227.3 301.5,227.8 302.5,228.2 303.5,228.6 304.5,229.0 305.4,229.4 306.4,229.8 307.4,230.2 308.4,230.5 309.3,230.9" fill="none" stroke="#000" stroke-width="1.24" stroke-dasharray="2.69 1.83"/>
<polyline points="231.3,166.8 232.2,167.4 233.2,168.0 234.2,168.6 235.2,169.3 236.1,170.0 237.1,170.8 238.1,171.5 239.1,172.3 240.1,173.1 241.0,174.0 242.0,174.8 243.0,175.7 244.0,176.6 244.9,177.6 245.9,178.6 246.9,179.6 247.9,180.6 248.8,181.6 249.8,182.7 250.8,183.8 251.8,184.9 252.7,186.0 253.7,187.2 254.7,188.3 255.7,189.5 256.6,190.7 257.6,191.9 258.6,193.1 259.6,194.3 260.5,195.5 261.5,196.7 262.5,197.9 263.5,199.1 264.4,200.3 265.4,201.5 266.4,202.7 267.4,203.9 268.3,205.1 269.3,206.2 270.3,207.4 271.3,208.5 272.3,209.6 273.2,210.7 274.2,211.7 275.2,212.8 276.2,213.8 277.1,214.8 278.1,215.7 279.1,216.7 280.1,217.6 281.0,218.5 282.0,219.3 283.0,220.2 284.0,221.0 284.9,221.7 285.9,222.5 286.9,223.2 287.9,223.9 288.8,224.6 289.8,225.2 290.8,225.8 291.8,226.4 292.7,227.0 293.7,227.6 294.7,228.1 295.7,228.6 296.6,229.1 297.6,229.5 298.6,229.9 299.6,230.4 300.5,230.8 301.5,231.1 302.5,231.5 303.5,231.8 304.5,232.2 305.4,232.5 306.4,232.8 307.4,233.0 308.4,233.3 309.3,233.6" fill="none" stroke="#f4000c" stroke-width="1.24" stroke-dasharray="2.69 1.83"/>
<polyline points="231.3,162.7 232.2,163.1 233.2,163.6 234.2,164.0 235.2,164.5 236.1,165.1 237.1,165.6 238.1,166.2 239.1,166.9 240.1,167.5 241.0,168.2 242.0,169.0 243.0,169.7 244.0,170.5 244.9,171.3 245.9,172.2 246.9,173.1 247.9,174.1 248.8,175.1 249.8,176.1 250.8,177.1 251.8,178.2 252.7,179.4 253.7,180.5 254.7,181.7 255.7,182.9 256.6,184.2 257.6,185.5 258.6,186.8 259.6,188.1 260.5,189.4 261.5,190.8 262.5,192.2 263.5,193.6 264.4,194.9 265.4,196.3 266.4,197.7 267.4,199.1 268.3,200.5 269.3,201.9 270.3,203.3 271.3,204.6 272.3,206.0 273.2,207.3 274.2,208.6 275.2,209.8 276.2,211.1 277.1,212.3 278.1,213.4 279.1,214.6 280.1,215.7 281.0,216.8 282.0,217.8 283.0,218.8 284.0,219.7 284.9,220.7 285.9,221.6 286.9,222.4 287.9,223.2 288.8,224.0 289.8,224.7 290.8,225.4 291.8,226.1 292.7,226.8 293.7,227.4 294.7,227.9 295.7,228.5 296.6,229.0 297.6,229.5 298.6,230.0 299.6,230.4 300.5,230.8 301.5,231.2 302.5,231.6 303.5,231.9 304.5,232.3 305.4,232.6 306.4,232.8 307.4,233.1 308.4,233.4 309.3,233.6" fill="none" stroke="#f4000c" stroke-width="1.24"/>
<path d="M231.3 151.8V238.7H362.0" fill="none" stroke="#111" stroke-width="1.24"/>
<path d="M231.3 238.7h-3.8M231.3 224.3h-3.8M231.3 209.9h-3.8M231.3 195.5h-3.8M231.3 181.1h-3.8M231.3 166.8h-3.8M231.3 152.4h-3.8M231.3 238.7v3.8M257.3 238.7v3.8M283.3 238.7v3.8M309.3 238.7v3.8M335.4 238.7v3.8M361.4 238.7v3.8" stroke="#111" stroke-width="1.18" fill="none"/>
<text x="226.5" y="241.0" font-size="6.67" text-anchor="end" fill="#111" stroke="#111" stroke-width="0.24" font-weight="bold">0</text>
<text x="226.5" y="226.7" font-size="6.67" text-anchor="end" fill="#111" stroke="#111" stroke-width="0.24" font-weight="bold">20</text>
<text x="226.5" y="212.3" font-size="6.67" text-anchor="end" fill="#111" stroke="#111" stroke-width="0.24" font-weight="bold">40</text>
<text x="226.5" y="197.9" font-size="6.67" text-anchor="end" fill="#111" stroke="#111" stroke-width="0.24" font-weight="bold">60</text>
<text x="226.5" y="183.5" font-size="6.67" text-anchor="end" fill="#111" stroke="#111" stroke-width="0.24" font-weight="bold">80</text>
<text x="226.5" y="169.1" font-size="6.67" text-anchor="end" fill="#111" stroke="#111" stroke-width="0.24" font-weight="bold">100</text>
<text x="226.5" y="154.8" font-size="6.67" text-anchor="end" fill="#111" stroke="#111" stroke-width="0.24" font-weight="bold">120</text>
<text x="231.3" y="250.2" font-size="6.67" text-anchor="middle" fill="#111" stroke="#111" stroke-width="0.24" font-weight="bold">0</text>
<text x="257.3" y="250.2" font-size="6.67" text-anchor="middle" fill="#111" stroke="#111" stroke-width="0.24" font-weight="bold">1</text>
<text x="283.3" y="250.2" font-size="6.67" text-anchor="middle" fill="#111" stroke="#111" stroke-width="0.24" font-weight="bold">2</text>
<text x="309.3" y="250.2" font-size="6.67" text-anchor="middle" fill="#111" stroke="#111" stroke-width="0.24" font-weight="bold">3</text>
<text x="335.4" y="250.2" font-size="6.67" text-anchor="middle" fill="#111" stroke="#111" stroke-width="0.24" font-weight="bold">4</text>
<text x="361.4" y="250.2" font-size="6.67" text-anchor="middle" fill="#111" stroke="#111" stroke-width="0.24" font-weight="bold">5</text>
<text x="296.3" y="260.3" font-size="7.14" text-anchor="middle" fill="#111" stroke="#111" stroke-width="0.24" font-weight="bold">Fludarabine (log µM)</text>
<text transform="translate(211.5 194.6) rotate(-90)" font-size="7.14" text-anchor="middle" fill="#111" stroke="#111" stroke-width="0.24" font-weight="bold">OVCAR4 cell viability (%)</text>
<circle cx="231.3" cy="166.8" r="1.94" fill="#000"/>
<circle cx="241.7" cy="165.3" r="1.94" fill="#000"/>
<circle cx="246.9" cy="179.7" r="1.94" fill="#000"/>
<circle cx="270.3" cy="200.5" r="1.94" fill="#000"/>
<circle cx="278.1" cy="206.3" r="1.94" fill="#000"/>
<circle cx="285.9" cy="217.1" r="1.94" fill="#000"/>
<circle cx="293.7" cy="224.3" r="1.94" fill="#000"/>
<circle cx="301.5" cy="227.9" r="1.94" fill="#000"/>
<circle cx="309.3" cy="229.3" r="1.94" fill="#000"/>
<rect x="240.4" y="171.3" width="2.47" height="2.47" fill="#fff" fill-opacity="0.55" stroke="#000" stroke-width="1.18"/>
<rect x="245.6" y="184.2" width="2.47" height="2.47" fill="#fff" fill-opacity="0.55" stroke="#000" stroke-width="1.18"/>
<rect x="269.1" y="201.5" width="2.47" height="2.47" fill="#fff" fill-opacity="0.55" stroke="#000" stroke-width="1.18"/>
<rect x="308.1" y="229.5" width="2.47" height="2.47" fill="#fff" fill-opacity="0.55" stroke="#000" stroke-width="1.18"/>
<polygon points="246.9,173.5 245.1,176.7 248.7,176.7" fill="#f4000c"/>
<circle cx="270.3" cy="204.1" r="1.94" fill="#f4000c"/>
<circle cx="278.1" cy="209.9" r="1.94" fill="#f4000c"/>
<circle cx="285.9" cy="222.1" r="1.94" fill="#f4000c"/>
<circle cx="293.7" cy="228.6" r="1.94" fill="#f4000c"/>
<circle cx="301.5" cy="231.5" r="1.94" fill="#f4000c"/>
<circle cx="309.3" cy="232.9" r="1.94" fill="#f4000c"/>
<circle cx="270.3" cy="208.5" r="1.24" fill="#fff" fill-opacity="0.55" stroke="#f4000c" stroke-width="1.24"/></g>
<g id="B3"><polyline points="409.1,191.4 409.9,191.7 410.7,192.0 411.4,192.3 412.2,192.6 413.0,192.9 413.7,193.3 414.5,193.7 415.2,194.1 416.0,194.5 416.8,195.0 417.5,195.4 418.3,195.9 419.1,196.4 419.8,197.0 420.6,197.5 421.3,198.1 422.1,198.7 422.9,199.4 423.6,200.0 424.4,200.7 425.1,201.4 425.9,202.1 426.7,202.8 427.4,203.5 428.2,204.3 429.0,205.0 429.7,205.8 430.5,206.5 431.2,207.3 432.0,208.1 432.8,208.8 433.5,209.6 434.3,210.3 435.0,211.0 435.8,211.8 436.6,212.5 437.3,213.2 438.1,213.8 438.9,214.5 439.6,215.1 440.4,215.7 441.1,216.3 441.9,216.9 442.7,217.4 443.4,217.9 444.2,218.4 445.0,218.9 445.7,219.3 446.5,219.7 447.2,220.1 448.0,220.5 448.8,220.9 449.5,221.2 450.3,221.5 451.0,221.8 451.8,222.1 452.6,222.4 453.3,222.6 454.1,222.9 454.9,223.1 455.6,223.3 456.4,223.5 457.1,223.6 457.9,223.8 458.7,223.9 459.4,224.1 460.2,224.2 460.9,224.3 461.7,224.4 462.5,224.6 463.2,224.7 464.0,224.7 464.8,224.8 465.5,224.9 466.3,225.0 467.0,225.0 467.8,225.1 468.6,225.2 469.3,225.2 470.1,225.3" fill="none" stroke="#000" stroke-width="1.07"/>
<polyline points="409.1,195.4 409.9,195.8 410.7,196.2 411.4,196.6 412.2,197.0 413.0,197.4 413.7,197.8 414.5,198.3 415.2,198.7 416.0,199.2 416.8,199.7 417.5,200.2 418.3,200.7 419.1,201.3 419.8,201.8 420.6,202.4 421.3,202.9 422.1,203.5 422.9,204.1 423.6,204.7 424.4,205.3 425.1,205.8 425.9,206.4 426.7,207.0 427.4,207.7 428.2,208.3 429.0,208.9 429.7,209.5 430.5,210.0 431.2,210.6 432.0,211.2 432.8,211.8 433.5,212.4 434.3,212.9 435.0,213.5 435.8,214.0 436.6,214.5 437.3,215.1 438.1,215.6 438.9,216.0 439.6,216.5 440.4,217.0 441.1,217.4 441.9,217.9 442.7,218.3 443.4,218.7 444.2,219.1 445.0,219.4 445.7,219.8 446.5,220.1 447.2,220.5 448.0,220.8 448.8,221.1 449.5,221.4 450.3,221.7 451.0,221.9 451.8,222.2 452.6,222.4 453.3,222.6 454.1,222.9 454.9,223.1 455.6,223.3 456.4,223.4 457.1,223.6 457.9,223.8 458.7,223.9 459.4,224.1 460.2,224.2 460.9,224.4 461.7,224.5 462.5,224.6 463.2,224.7 464.0,224.8 464.8,224.9 465.5,225.0 466.3,225.1 467.0,225.2 467.8,225.3 468.6,225.4 469.3,225.4 470.1,225.5" fill="none" stroke="#000" stroke-width="1.07" stroke-dasharray="2.33 1.59"/>
<polyline points="409.1,198.8 409.9,199.1 410.7,199.4 411.4,199.8 412.2,200.3 413.0,200.7 413.7,201.3 414.5,201.9 415.2,202.5 416.0,203.3 416.8,204.0 417.5,204.9 418.3,205.8 419.1,206.7 419.8,207.7 420.6,208.8 421.3,209.9 422.1,211.0 422.9,212.1 423.6,213.3 424.4,214.4 425.1,215.5 425.9,216.6 426.7,217.7 427.4,218.7 428.2,219.7 429.0,220.6 429.7,221.5 430.5,222.3 431.2,223.0 432.0,223.7 432.8,224.3 433.5,224.9 434.3,225.4 435.0,225.9 435.8,226.3 436.6,226.6 437.3,227.0 438.1,227.3 438.9,227.5 439.6,227.7 440.4,227.9 441.1,228.1 441.9,228.3 442.7,228.4 443.4,228.5 444.2,228.6 445.0,228.7 445.7,228.8 446.5,228.9 447.2,228.9 448.0,229.0 448.8,229.0 449.5,229.1 450.3,229.1 451.0,229.1 451.8,229.2 452.6,229.2 453.3,229.2 454.1,229.2 454.9,229.2 455.6,229.3 456.4,229.3 457.1,229.3 457.9,229.3 458.7,229.3 459.4,229.3 460.2,229.3 460.9,229.3 461.7,229.3 462.5,229.3 463.2,229.3 464.0,229.3 464.8,229.3 465.5,229.3 466.3,229.3 467.0,229.3 467.8,229.3 468.6,229.3 469.3,229.3 470.1,229.3" fill="none" stroke="#f4000c" stroke-width="1.07" stroke-dasharray="2.33 1.59"/>
<polyline points="409.1,188.0 409.9,188.6 410.7,189.3 411.4,190.1 412.2,191.0 413.0,191.9 413.7,192.9 414.5,194.0 415.2,195.2 416.0,196.5 416.8,197.8 417.5,199.3 418.3,200.8 419.1,202.3 419.8,203.9 420.6,205.5 421.3,207.1 422.1,208.7 422.9,210.3 423.6,211.9 424.4,213.4 425.1,214.8 425.9,216.1 426.7,217.4 427.4,218.6 428.2,219.7 429.0,220.8 429.7,221.7 430.5,222.5 431.2,223.3 432.0,224.0 432.8,224.6 433.5,225.2 434.3,225.7 435.0,226.1 435.8,226.5 436.6,226.9 437.3,227.2 438.1,227.4 438.9,227.7 439.6,227.9 440.4,228.1 441.1,228.2 441.9,228.4 442.7,228.5 443.4,228.6 444.2,228.7 445.0,228.7 445.7,228.8 446.5,228.9 447.2,228.9 448.0,229.0 448.8,229.0 449.5,229.1 450.3,229.1 451.0,229.1 451.8,229.1 452.6,229.2 453.3,229.2 454.1,229.2 454.9,229.2 455.6,229.2 456.4,229.2 457.1,229.2 457.9,229.2 458.7,229.2 459.4,229.2 460.2,229.3 460.9,229.3 461.7,229.3 462.5,229.3 463.2,229.3 464.0,229.3 464.8,229.3 465.5,229.3 466.3,229.3 467.0,229.3 467.8,229.3 468.6,229.3 469.3,229.3 470.1,229.3" fill="none" stroke="#f4000c" stroke-width="1.07"/>
<path d="M409.1 157.1V232.4H522.5" fill="none" stroke="#111" stroke-width="1.07"/>
<path d="M409.1 232.4h-3.3M409.1 219.9h-3.3M409.1 207.5h-3.3M409.1 195.0h-3.3M409.1 182.5h-3.3M409.1 170.1h-3.3M409.1 157.6h-3.3M409.1 232.4v3.3M431.7 232.4v3.3M454.3 232.4v3.3M476.9 232.4v3.3M499.4 232.4v3.3M522.0 232.4v3.3" stroke="#111" stroke-width="1.03" fill="none"/>
<text x="405.0" y="234.5" font-size="5.78" text-anchor="end" fill="#111" stroke="#111" stroke-width="0.21" font-weight="bold">0</text>
<text x="405.0" y="222.0" font-size="5.78" text-anchor="end" fill="#111" stroke="#111" stroke-width="0.21" font-weight="bold">20</text>
<text x="405.0" y="209.5" font-size="5.78" text-anchor="end" fill="#111" stroke="#111" stroke-width="0.21" font-weight="bold">40</text>
<text x="405.0" y="197.1" font-size="5.78" text-anchor="end" fill="#111" stroke="#111" stroke-width="0.21" font-weight="bold">60</text>
<text x="405.0" y="184.6" font-size="5.78" text-anchor="end" fill="#111" stroke="#111" stroke-width="0.21" font-weight="bold">80</text>
<text x="405.0" y="172.2" font-size="5.78" text-anchor="end" fill="#111" stroke="#111" stroke-width="0.21" font-weight="bold">100</text>
<text x="405.0" y="159.7" font-size="5.78" text-anchor="end" fill="#111" stroke="#111" stroke-width="0.21" font-weight="bold">120</text>
<text x="409.1" y="242.4" font-size="5.78" text-anchor="middle" fill="#111" stroke="#111" stroke-width="0.21" font-weight="bold">0</text>
<text x="431.7" y="242.4" font-size="5.78" text-anchor="middle" fill="#111" stroke="#111" stroke-width="0.21" font-weight="bold">1</text>
<text x="454.3" y="242.4" font-size="5.78" text-anchor="middle" fill="#111" stroke="#111" stroke-width="0.21" font-weight="bold">2</text>
<text x="476.9" y="242.4" font-size="5.78" text-anchor="middle" fill="#111" stroke="#111" stroke-width="0.21" font-weight="bold">3</text>
<text x="499.4" y="242.4" font-size="5.78" text-anchor="middle" fill="#111" stroke="#111" stroke-width="0.21" font-weight="bold">4</text>
<text x="522.0" y="242.4" font-size="5.78" text-anchor="middle" fill="#111" stroke="#111" stroke-width="0.21" font-weight="bold">5</text>
<text x="465.6" y="250.8" font-size="6.22" text-anchor="middle" fill="#111" stroke="#111" stroke-width="0.21" font-weight="bold">Fludarabine (log µM)</text>
<text x="465.6" y="258.2" font-size="6.22" text-anchor="middle" fill="#111" stroke="#111" stroke-width="0.21" font-weight="bold">(post incubation IC50 Treosulfan)</text>
<text transform="translate(392.4 194.3) rotate(-90)" font-size="6.22" text-anchor="middle" fill="#111" stroke="#111" stroke-width="0.21" font-weight="bold">OVCAR4 cell viability (%)</text>
<circle cx="409.1" cy="193.8" r="1.68" fill="#000"/>
<circle cx="409.1" cy="202.5" r="1.68" fill="#000"/>
<circle cx="418.2" cy="192.5" r="1.68" fill="#000"/>
<circle cx="422.7" cy="200.6" r="1.68" fill="#000"/>
<circle cx="429.5" cy="206.8" r="1.68" fill="#000"/>
<circle cx="436.2" cy="210.6" r="1.68" fill="#000"/>
<circle cx="443.0" cy="216.8" r="1.68" fill="#000"/>
<circle cx="449.8" cy="224.3" r="1.68" fill="#000"/>
<circle cx="456.5" cy="224.9" r="1.68" fill="#000"/>
<circle cx="463.3" cy="224.9" r="1.68" fill="#000"/>
<circle cx="470.1" cy="224.3" r="1.68" fill="#000"/>
<circle cx="422.7" cy="206.2" r="1.07" fill="#fff" fill-opacity="0.55" stroke="#000" stroke-width="1.07"/>
<circle cx="429.5" cy="210.6" r="1.07" fill="#fff" fill-opacity="0.55" stroke="#000" stroke-width="1.07"/>
<circle cx="436.2" cy="214.9" r="1.07" fill="#fff" fill-opacity="0.55" stroke="#000" stroke-width="1.07"/>
<circle cx="443.0" cy="218.7" r="1.07" fill="#fff" fill-opacity="0.55" stroke="#000" stroke-width="1.07"/>
<circle cx="456.5" cy="225.5" r="1.07" fill="#fff" fill-opacity="0.55" stroke="#000" stroke-width="1.07"/>
<circle cx="463.3" cy="225.5" r="1.07" fill="#fff" fill-opacity="0.55" stroke="#000" stroke-width="1.07"/>
<circle cx="470.1" cy="225.5" r="1.07" fill="#fff" fill-opacity="0.55" stroke="#000" stroke-width="1.07"/>
<circle cx="409.1" cy="198.1" r="1.68" fill="#f4000c"/>
<circle cx="422.7" cy="212.5" r="1.68" fill="#f4000c"/>
<circle cx="429.5" cy="218.7" r="1.68" fill="#f4000c"/>
<circle cx="436.2" cy="224.9" r="1.68" fill="#f4000c"/>
<circle cx="443.0" cy="228.7" r="1.68" fill="#f4000c"/>
<circle cx="449.8" cy="229.3" r="1.68" fill="#f4000c"/>
<circle cx="456.5" cy="229.3" r="1.68" fill="#f4000c"/>
<circle cx="463.3" cy="229.3" r="1.68" fill="#f4000c"/>
<circle cx="470.1" cy="229.0" r="1.68" fill="#f4000c"/>
<circle cx="409.1" cy="196.9" r="1.07" fill="#fff" fill-opacity="0.55" stroke="#f4000c" stroke-width="1.07"/>
<circle cx="418.2" cy="206.8" r="1.07" fill="#fff" fill-opacity="0.55" stroke="#f4000c" stroke-width="1.07"/>
<circle cx="422.7" cy="211.8" r="1.07" fill="#fff" fill-opacity="0.55" stroke="#f4000c" stroke-width="1.07"/>
<circle cx="429.5" cy="219.9" r="1.07" fill="#fff" fill-opacity="0.55" stroke="#f4000c" stroke-width="1.07"/>
<circle cx="436.2" cy="224.9" r="1.07" fill="#fff" fill-opacity="0.55" stroke="#f4000c" stroke-width="1.07"/></g>
<text transform="translate(-0.1 8.75) scale(0.92 1)" font-size="12.3" fill="#111" stroke="#111" stroke-width="0.2">A</text>
<text transform="translate(1.3 144.85) scale(0.9 1)" font-size="11.7" fill="#111" stroke="#111" stroke-width="0.2">B</text>
<path d="M498.1 288.9H527.8" stroke="#000" stroke-width="1.8" stroke-dasharray="1.9 1.54"/>
<text x="533.4" y="291.6" font-size="8.2" fill="#111" stroke="#111" stroke-width="0.3" textLength="73.3" lengthAdjust="spacingAndGlyphs">Parental tumor cells</text>
<text x="621.5" y="291.6" font-size="8.2" fill="#111" stroke="#111" stroke-width="0.3" textLength="41.3" lengthAdjust="spacingAndGlyphs">/ Normoxia</text>
<path d="M498.1 300.8H527.8" stroke="#000" stroke-width="1.9"/>
<text x="533.4" y="303.9" font-size="8.2" fill="#111" stroke="#111" stroke-width="0.3" textLength="151.1" lengthAdjust="spacingAndGlyphs">MSLN transduced tumor cells / Normoxia</text>
<path d="M498.1 313.9H527.8" stroke="#f4000c" stroke-width="1.8" stroke-dasharray="1.9 1.54"/>
<text x="533.4" y="317.0" font-size="8.2" fill="#111" stroke="#111" stroke-width="0.3" textLength="73.3" lengthAdjust="spacingAndGlyphs">Parental tumor cells</text>
<text x="621.5" y="317.0" font-size="8.2" fill="#111" stroke="#111" stroke-width="0.3" textLength="34.4" lengthAdjust="spacingAndGlyphs">/ Hypoxia</text>
<path d="M498.1 325.9H527.8" stroke="#f4000c" stroke-width="1.9"/>
<text x="533.4" y="329.0" font-size="8.2" fill="#111" stroke="#111" stroke-width="0.3" textLength="144.9" lengthAdjust="spacingAndGlyphs">MSLN transduced tumor cells / Hypoxia</text>
</svg>
</body></html>
